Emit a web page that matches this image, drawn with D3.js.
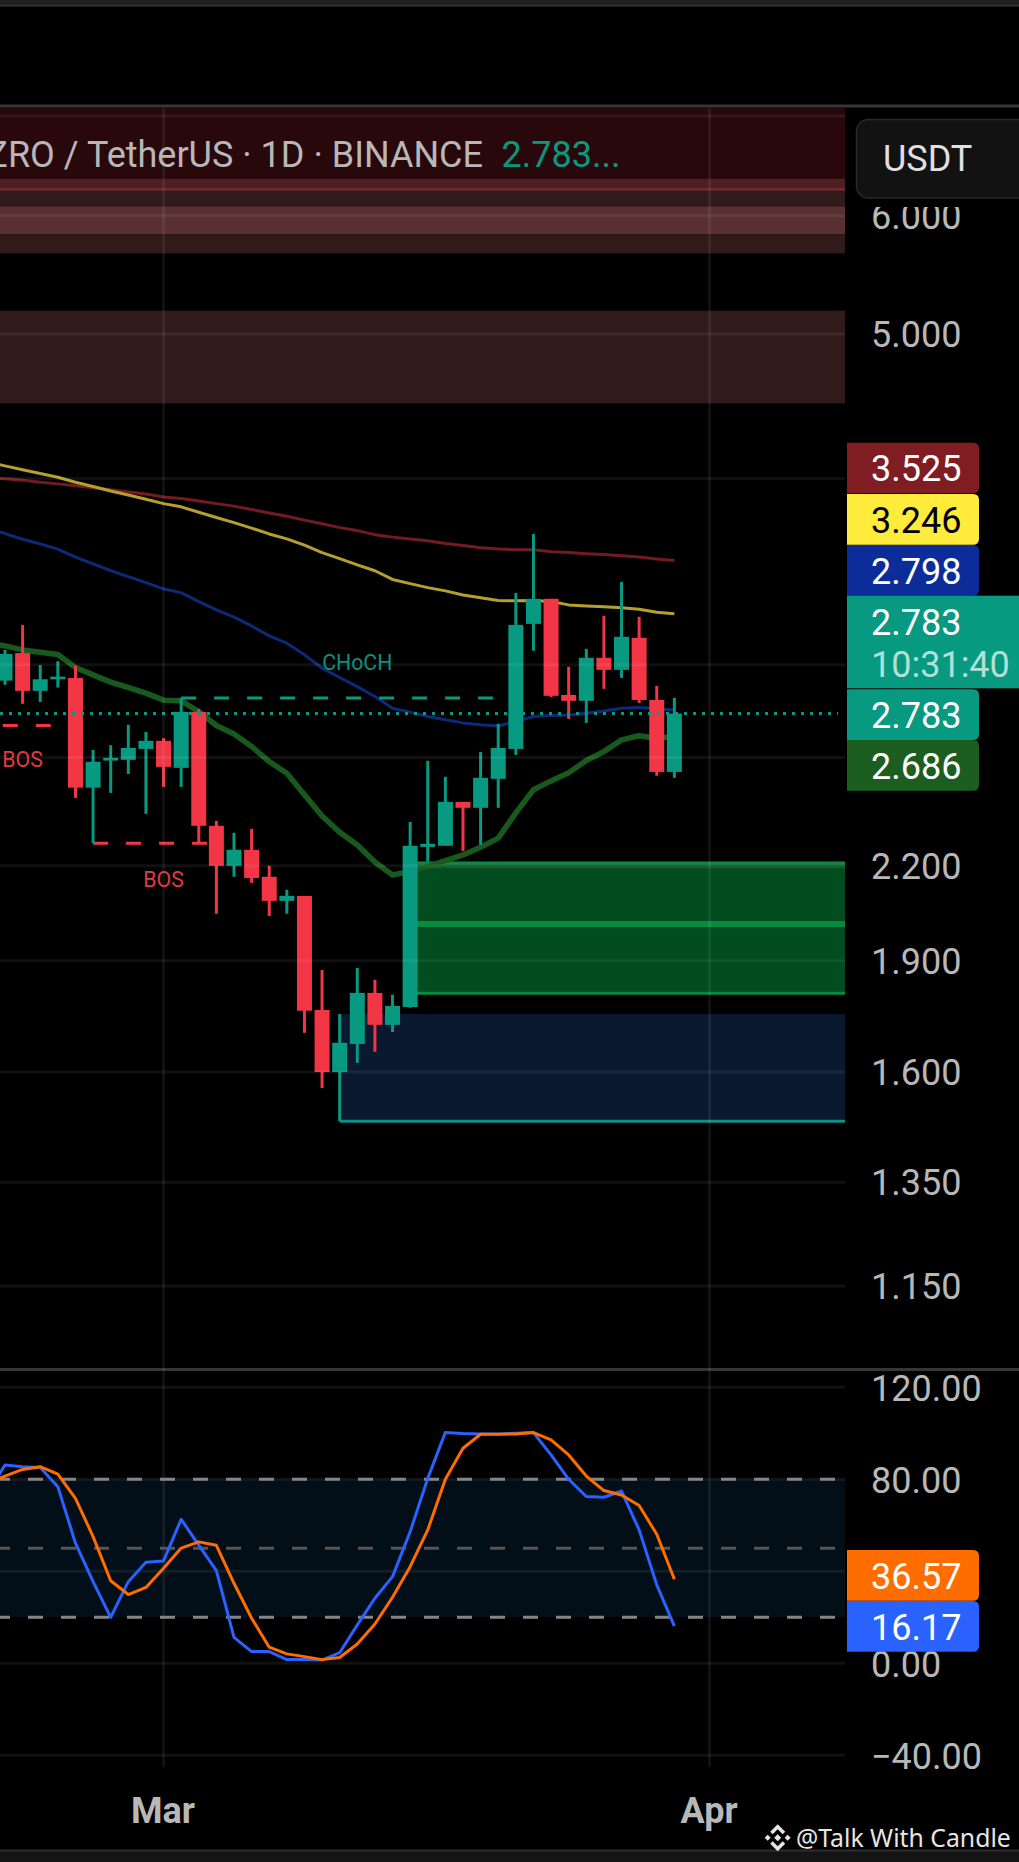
<!DOCTYPE html>
<html><head><meta charset="utf-8">
<style>html,body{margin:0;background:#000;overflow:hidden}svg{display:block}text{font-family:Roboto,sans-serif}</style>
<script src="https://cdn.jsdelivr.net/npm/d3@7"></script></head><body>
<svg id="c" width="1019" height="1862"></svg>
<script>
// ---- data ----
const firstDay = new Date(Date.UTC(2025,1,20));
const candleOpen = [2.928,3.055,2.882,2.934,2.940,2.482,2.588,2.591,2.635,2.668,2.559,2.790,2.340,2.200,2.255,2.163,2.084,2.100,1.761,1.600,1.671,1.808,1.721,1.769,2.265,2.269,2.428,2.406,2.516,2.635,3.196,3.322,2.864,2.838,3.033,2.977,3.128,2.842,2.543];
const candleHigh = [3.070,3.191,2.999,3.017,2.995,2.631,2.650,2.735,2.705,2.679,2.850,2.802,2.358,2.315,2.329,2.200,2.120,2.100,1.873,1.750,1.879,1.845,1.803,2.354,2.587,2.524,2.428,2.623,2.739,3.353,3.672,3.322,2.991,3.075,3.236,3.410,3.231,2.904,2.851];
const candleLow = [2.909,2.825,2.833,2.897,2.443,2.278,2.462,2.535,2.384,2.485,2.485,2.278,2.043,2.163,2.143,2.036,2.043,1.700,1.561,1.483,1.623,1.651,1.702,1.767,2.214,2.269,2.251,2.272,2.406,2.611,3.066,2.855,2.760,2.743,2.891,2.940,2.829,2.528,2.520];
const candleClose = [3.051,2.882,2.934,2.946,2.482,2.583,2.599,2.639,2.668,2.563,2.790,2.340,2.200,2.255,2.159,2.084,2.100,1.759,1.600,1.674,1.808,1.721,1.772,2.269,2.276,2.428,2.406,2.520,2.639,3.191,3.322,2.860,2.838,3.033,2.977,3.133,2.842,2.543,2.783];
// the four moving averages and both stochastic series start one day before the first candle
const maRed = [4.007,3.998,3.990,3.977,3.967,3.955,3.944,3.931,3.917,3.905,3.888,3.878,3.864,3.848,3.833,3.813,3.793,3.774,3.751,3.730,3.708,3.691,3.668,3.654,3.644,3.633,3.618,3.607,3.594,3.587,3.584,3.583,3.573,3.568,3.562,3.557,3.551,3.543,3.533,3.525];
const maYellow = [4.104,4.079,4.054,4.031,4.008,3.977,3.951,3.924,3.900,3.874,3.848,3.829,3.797,3.766,3.737,3.705,3.672,3.644,3.609,3.568,3.535,3.501,3.469,3.423,3.401,3.380,3.363,3.342,3.328,3.313,3.312,3.314,3.308,3.291,3.286,3.281,3.277,3.269,3.254,3.246];
const maBlue = [3.707,3.674,3.642,3.616,3.587,3.543,3.506,3.470,3.438,3.406,3.373,3.354,3.308,3.266,3.229,3.186,3.137,3.102,3.047,2.985,2.942,2.901,2.857,2.806,2.789,2.770,2.756,2.743,2.735,2.730,2.749,2.770,2.774,2.777,2.784,2.794,2.806,2.809,2.803,2.798];
const maGreen = [3.104,3.089,3.070,3.059,3.048,2.988,2.954,2.921,2.897,2.872,2.841,2.838,2.791,2.732,2.696,2.645,2.584,2.538,2.455,2.376,2.317,2.272,2.213,2.169,2.181,2.197,2.218,2.237,2.264,2.296,2.387,2.474,2.508,2.540,2.588,2.624,2.672,2.689,2.679,2.686];
const stochK = [73.9,86.2,85.5,85.1,76.8,52.2,35.5,20.0,35.5,43.9,44.5,62.6,51.4,40.3,11.3,5.1,5.1,1.6,1.6,1.4,4.6,16.7,28.3,37.7,57.2,80.4,100.4,99.9,99.7,99.7,100,100.3,90.6,80,72.5,72.2,74.9,58,34.1,16.17];
const stochD = [78.3,81.4,84.3,85.5,82.3,71.7,55.1,35.9,29.9,33,41.3,50.1,52.8,51.3,34.8,19.6,7,4.1,2.9,1.6,2.5,8.4,17.1,28.7,42,58,80,93.5,99.6,99.6,99.7,100.3,97.1,90.6,81.4,75.1,73.2,68.6,56.1,36.57];
const priceGrid = [7,6,5,4,3,2.6,2.2,1.9,1.6,1.35,1.15];
const priceLabels = [6,5,2.2,1.9,1.6,1.35,1.15];
const stochGrid = [120,80,40,0,-40];
const stochLabels = [120,80,0,-40];
const timeTicks = [new Date(Date.UTC(2025,2,1)), new Date(Date.UTC(2025,3,1))];
const stochLevels = [80,50,20];
const redBandTops = [7.09,6.355,6.241,6.089,5.831,5.183];
const redBandBottoms = [6.355,6.241,6.089,5.831,5.662,4.492];
const redBandFills = ["#28080a","#4d1e24","#301a1b","#5a2f31","#301a1b","#301a1b"];

// ---- scales ----
const W=1019, plotR=845, FS=36;
const day = i => d3.utcDay.offset(firstDay,i);
const x = d3.scaleUtc().domain([firstDay,timeTicks[1]]).range([5,709.6]);
const y = d3.scaleLog().domain([1.15,7]).range([1286,116]);
const s = d3.scaleLinear().domain([-40,120]).range([1755.3,1387.3]);
const svg = d3.select("#c");
const bar=15, wick=3;

svg.append("rect").attr("width",W).attr("height",1862).attr("fill","#000");
svg.append("rect").attr("width",W).attr("height",4.5).attr("fill","#1f1f1f");
svg.append("rect").attr("y",4.5).attr("width",W).attr("height",2).attr("fill","#363636");
svg.append("rect").attr("y",104.5).attr("width",W).attr("height",3).attr("fill","#363636");
svg.append("rect").attr("y",1368).attr("width",W).attr("height",3).attr("fill","#363636");
svg.append("rect").attr("y",1850).attr("width",W).attr("height",12).attr("fill","#141414");
svg.append("rect").attr("y",1849.5).attr("width",W).attr("height",2).attr("fill","#2e2e2e");

const defs = svg.append("defs");
defs.append("clipPath").attr("id","plot").append("rect").attr("x",0).attr("y",108).attr("width",plotR).attr("height",1260);
const g = svg.append("g").attr("clip-path","url(#plot)");

g.selectAll(".rb").data(redBandTops).join("rect").attr("x",0).attr("width",plotR)
  .attr("y",d=>y(d)).attr("height",(d,i)=>y(redBandBottoms[i])-y(d)).attr("fill",(d,i)=>redBandFills[i]);
g.append("rect").attr("x",0).attr("width",plotR).attr("y",188).attr("height",2.7).attr("fill","#6e2a2e");

const zoneL = x(day(23)), blueL = x(day(19));
g.append("rect").attr("x",blueL).attr("width",plotR-blueL).attr("y",y(1.75)).attr("height",y(1.483)-y(1.75)).attr("fill","#0a1930");
g.append("rect").attr("x",blueL).attr("width",plotR-blueL).attr("y",y(1.483)-1.5).attr("height",3).attr("fill","#0f8f85");
g.append("rect").attr("x",zoneL).attr("width",plotR-zoneL).attr("y",y(2.214)).attr("height",y(1.807)-y(2.214)).attr("fill","#014d1f");
g.append("rect").attr("x",zoneL).attr("width",plotR-zoneL).attr("y",y(2.214)).attr("height",7).attr("fill","#0d5a26");
[[2.214,3],[2.011,6],[1.807,3]].forEach(([p,h])=>{
  g.append("rect").attr("x",zoneL).attr("width",plotR-zoneL).attr("y",y(p)-(p==2.214?0:h/2)).attr("height",h).attr("fill","#0a8a3e");
});

const gridCol="rgba(255,255,255,0.065)";
const gridG = svg.append("g").attr("clip-path","url(#plot2)");
defs.append("clipPath").attr("id","plot2").append("rect").attr("x",0).attr("y",108).attr("width",plotR).attr("height",1660);
gridG.selectAll(".hp").data(priceGrid).join("line").attr("x1",0).attr("x2",plotR).attr("y1",d=>y(d)).attr("y2",d=>y(d)).attr("stroke",gridCol).attr("stroke-width",3);
gridG.append("rect").attr("x",0).attr("width",plotR).attr("y",s(80)).attr("height",s(20)-s(80)).attr("fill","#030f18");
gridG.selectAll(".hs").data(stochGrid).join("line").attr("x1",0).attr("x2",plotR).attr("y1",d=>s(d)).attr("y2",d=>s(d)).attr("stroke",gridCol).attr("stroke-width",3);
gridG.selectAll(".v").data(timeTicks).join("line").attr("x1",d=>x(d)).attr("x2",d=>x(d)).attr("y1",108).attr("y2",1767).attr("stroke",gridCol).attr("stroke-width",3);

stochLevels.forEach(l=>{
  gridG.append("line").attr("x1",0).attr("x2",835).attr("y1",s(l)).attr("y2",s(l))
    .attr("stroke",l==50?"#555":"#858585").attr("stroke-width",3)
    .attr("stroke-dasharray","15 18").attr("stroke-dashoffset",5);
});

const lineP = d3.line().x((d,i)=>x(day(i-1))).y(d=>y(d));
[[maRed,"#731a22",3],[maYellow,"#b59f2d",3],[maBlue,"#0c2a78",3],[maGreen,"#185a1e",5.5]].forEach(([a,c,w])=>{
  g.append("path").attr("d",lineP(a)).attr("fill","none").attr("stroke",c).attr("stroke-width",w).attr("stroke-linejoin","round");
});

const up="#089981", down="#f23645";
[[10,28,2.850,up],[-2,3,2.732,down],[5,12,2.278,down]].forEach(([a,b,p,c])=>{
  g.append("line").attr("x1",x(day(a))).attr("x2",x(day(b))).attr("y1",y(p)).attr("y2",y(p))
   .attr("stroke",c).attr("stroke-width",3).attr("stroke-dasharray","15 18");
});

const idx = d3.range(candleOpen.length);
const col = i => candleClose[i]>=candleOpen[i]?up:down;
g.selectAll(".w").data(idx).join("rect").attr("x",i=>x(day(i))-wick/2).attr("width",wick)
  .attr("y",i=>y(candleHigh[i])).attr("height",i=>y(candleLow[i])-y(candleHigh[i])).attr("fill",col);
g.selectAll(".b").data(idx).join("rect").attr("x",i=>x(day(i))-bar/2).attr("width",bar)
  .attr("y",i=>y(Math.max(candleOpen[i],candleClose[i])))
  .attr("height",i=>Math.max(2,Math.abs(y(candleOpen[i])-y(candleClose[i])))).attr("fill",col);

g.append("line").attr("x1",0).attr("x2",838).attr("y1",y(2.783)).attr("y2",y(2.783)).attr("stroke",up).attr("stroke-width",3).attr("stroke-dasharray","3 6");

const note=(t,i,p,c)=>svg.append("text").attr("x",x(day(i))).attr("y",y(p)).attr("dy",".355em").attr("text-anchor","middle").attr("fill",c).attr("font-size",21.3).text(t);
note("BOS",1,2.591,"#e03a44");
note("BOS",9,2.155,"#e03a44");
note("CHoCH",20,3.012,"#0f8f7a");

const lineS = d3.line().x((d,i)=>x(day(i-1))).y(d=>s(d));
[[stochK,"#2962ff"],[stochD,"#ff6d00"]].forEach(([a,c])=>{
  gridG.append("path").attr("d",lineS(a)).attr("fill","none").attr("stroke",c).attr("stroke-width",3).attr("stroke-linejoin","round");
});

svg.append("text").attr("x",483).attr("y",154).attr("dy",".355em").attr("text-anchor","end").attr("font-size",FS).attr("fill","#b8b8b8").text("ZRO / TetherUS · 1D · BINANCE");
svg.append("text").attr("x",501.6).attr("y",154).attr("dy",".355em").attr("font-size",FS).attr("fill",up).text("2.783...");

const axP = svg.append("g").attr("transform","translate(871,0)")
  .call(d3.axisRight(y).tickValues(priceLabels).tickSize(0).tickPadding(0).tickFormat(d3.format(".3f")));
const axS = svg.append("g").attr("transform","translate(871,0)")
  .call(d3.axisRight(s).tickValues(stochLabels).tickSize(0).tickPadding(0).tickFormat(d3.format(".2f")));
const axT = svg.append("g").attr("transform","translate(-1,1797)")
  .call(d3.axisBottom(x).tickValues(timeTicks).tickSize(0).tickPadding(0).tickFormat(d3.utcFormat("%b")));
[axP,axS,axT].forEach(a=>{a.select(".domain").remove();a.selectAll("text").attr("font-size",FS).attr("fill","#b8b8b8").style("font-family","Roboto");});
axT.selectAll("text").attr("font-weight",700).attr("dy",".355em").attr("y",13);
axP.selectAll("text").attr("dy",".355em");
axS.selectAll("text").attr("dy",".355em");

const tag=(top,bot,fill,label,color)=>{
  const r=6,l=847,rr=979;
  svg.append("path").attr("d",`M${l},${top}H${rr-r}Q${rr},${top} ${rr},${top+r}V${bot-r}Q${rr},${bot} ${rr-r},${bot}H${l}Z`).attr("fill",fill);
  svg.append("text").attr("x",871).attr("y",(top+bot)/2+0.5).attr("dy",".355em").attr("font-size",FS).attr("fill",color).text(label);
};
tag(442.7,493.3,"#801d22","3.525","#fff");
tag(494,544.7,"#ffeb3b","3.246","#000");
tag(545,595.7,"#0c2d99","2.798","#fff");
svg.append("rect").attr("x",847).attr("y",595.7).attr("width",172).attr("height",92.6).attr("fill",up);
svg.append("text").attr("x",871).attr("y",622).attr("dy",".355em").attr("font-size",FS).attr("fill","#fff").text("2.783");
svg.append("text").attr("x",871).attr("y",664.5).attr("dy",".355em").attr("font-size",FS).attr("fill","#b2dfd8").text("10:31:40");
tag(689.3,740,up,"2.783","#fff");
tag(740,790.7,"#1b5e20","2.686","#fff");
tag(1550,1600.7,"#ff6d00","36.57","#fff");
tag(1601,1651.7,"#2962ff","16.17","#fff");

svg.append("rect").attr("x",850).attr("y",108).attr("width",169).attr("height",99).attr("fill","#000");
svg.append("rect").attr("x",856.5).attr("y",119.5).attr("width",200).attr("height",78.5).attr("rx",12).attr("fill","#121212").attr("stroke","#2a2a2a").attr("stroke-width",1.5);
svg.append("text").attr("x",883).attr("y",158).attr("dy",".355em").attr("font-size",FS).attr("fill","#e0e0e0").text("USDT");

const cx=777.7, cy=1837.7, wm=svg.append("g").attr("fill","#e6e6e6");
const dia=(dx,dy,r)=>wm.append("path").attr("d",`M${cx+dx-r},${cy+dy}L${cx+dx},${cy+dy-r}L${cx+dx+r},${cy+dy}L${cx+dx},${cy+dy+r}Z`);
dia(0,0,3.5);dia(-10,0,3);dia(10,0,3);
wm.append("path").attr("d",`M${cx},${cy-13.5}L${cx+7.5},${cy-6}L${cx+5},${cy-3.5}L${cx},${cy-8.5}L${cx-5},${cy-3.5}L${cx-7.5},${cy-6}Z`);
wm.append("path").attr("d",`M${cx},${cy+13.5}L${cx+7.5},${cy+6}L${cx+5},${cy+3.5}L${cx},${cy+8.5}L${cx-5},${cy+3.5}L${cx-7.5},${cy+6}Z`);
svg.append("text").attr("x",796).attr("y",1838).attr("dy",".355em").attr("font-size",24.8).attr("fill","#e6e6e6").style("font-family","'Noto Sans'").text("@Talk With Candle");
</script></body></html>
